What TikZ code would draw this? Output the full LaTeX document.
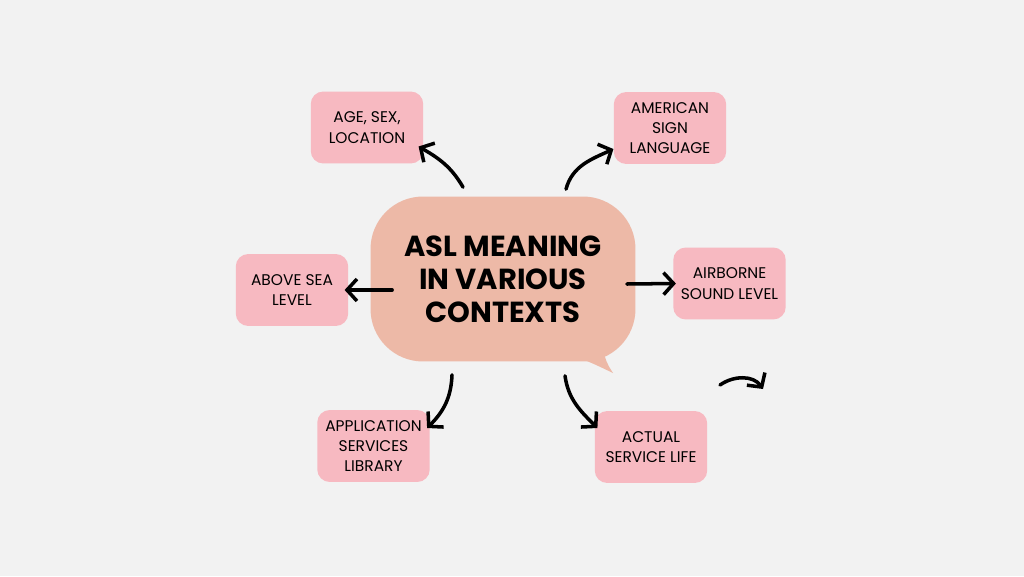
\documentclass[tikz,border=0pt]{standalone}
\usepackage{fontspec}
\setmainfont{Poppins}
\usetikzlibrary{arrows.meta,calc}

\definecolor{paper}{HTML}{F2F2F2}
\definecolor{bubblepeach}{HTML}{EDB9A7}
\definecolor{boxpink}{HTML}{F7B9C1}

\begin{document}
\begin{tikzpicture}[x=0.02cm,y=0.02cm]
    \tikzset{TopicStyle/.style = {%
        shape= rectangle,
        rounded corners= 0.25cm,
        fill= boxpink,
        minimum width= 2.25cm,
        minimum height= 1.44cm,
        align= center,
        inner sep= 2pt,
        font= \fontsize{8.8}{11.6}\selectfont},
      BubbleStyle/.style = {%
        shape= rectangle,
        rounded corners= 1.05cm,
        fill= bubblepeach,
        minimum width= 5.3cm,
        minimum height= 3.3cm,
        align= center,
        font= \bfseries\fontsize{16.5}{18.7}\selectfont},
      Link/.style = {%
        line width= 2pt,
        line cap= round,
        -{Straight Barb[length=2mm,width=4.4mm]}}}
    \fill[paper] (0,0) rectangle (1024,576);
    \useasboundingbox (0,0) rectangle (1024,576);
    % speech bubble
    \fill[bubblepeach] (568,222) .. controls (590,214) .. (613,203)
        .. controls (606,214) .. (602,232) -- cycle;
    \node[BubbleStyle] (asl) at (503,297) {ASL MEANING\\IN VARIOUS\\CONTEXTS};
    \node[TopicStyle] (age)  at (367,448.5) {AGE, SEX,\\LOCATION};
    \node[TopicStyle] (amer) at (670,448) {AMERICAN\\SIGN\\LANGUAGE};
    \node[TopicStyle] (sea)  at (292,286) {ABOVE SEA\\LEVEL};
    \node[TopicStyle] (air)  at (729.5,292.5) {AIRBORNE\\SOUND LEVEL};
    \node[TopicStyle] (app)  at (373.5,130) {APPLICATION\\SERVICES\\LIBRARY};
    \node[TopicStyle] (life) at (651,129) {ACTUAL\\SERVICE LIFE};
    \draw[Link] ($(asl.north)+(-40,9)$) to[out=120,in=-30] ($(age.east)+(-5,-19)$);
    \draw[Link] ($(asl.north)+(63,7)$) to[out=75,in=205] ($(amer.west)+(0,-21)$);
    \draw[Link] ($(asl.west)+(22,-11)$) -- ($(sea.east)+(-4,0)$);
    \draw[Link] ($(asl.east)+(-9,-5)$) -- ($(air.west)+(3,0)$);
    \draw[Link] ($(asl.south)+(-51,-13)$) to[out=-92,in=45] ($(app.east)+(-3,18)$);
    \draw[Link] ($(asl.south)+(62,-14)$) to[out=-82,in=135] ($(life.west)+(3,19)$);
    % loose arrow
    \coordinate (loose-a) at (720,191);
    \coordinate (loose-b) at (763,187);
    \draw[Link] (loose-a) to[out=35,in=125] (loose-b);
    %\node[TopicStyle] at (800,100) {};
\end{tikzpicture}
\end{document}
